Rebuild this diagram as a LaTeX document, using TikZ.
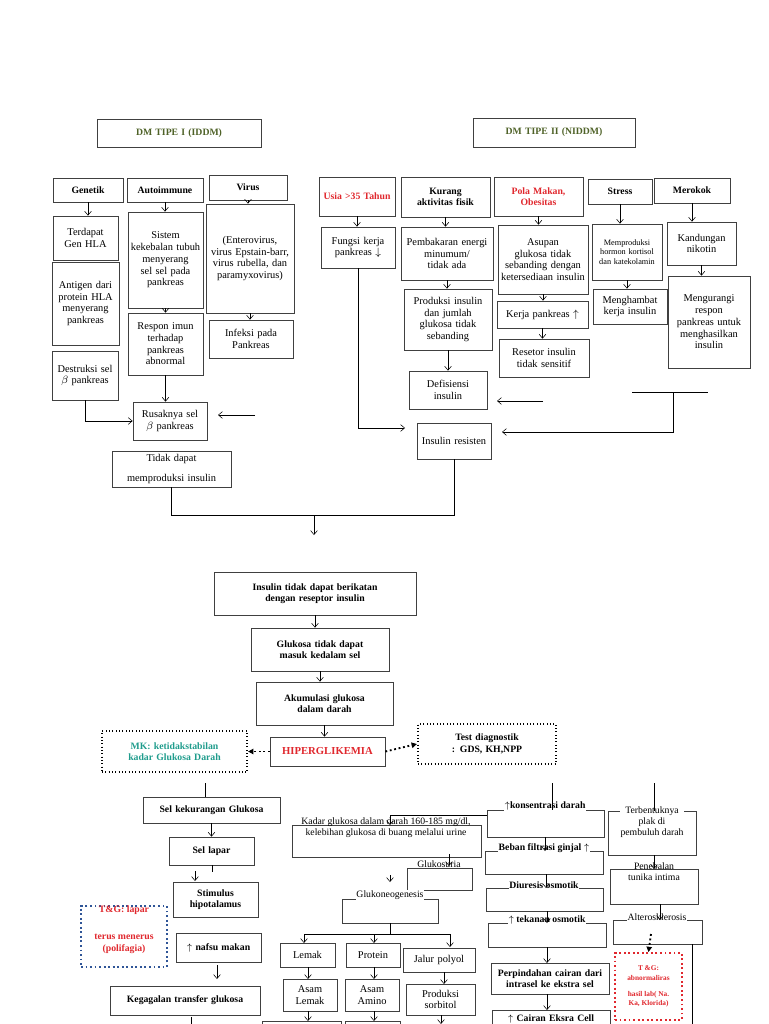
\documentclass[tikz,border=0pt]{standalone}
\usepackage{fontspec}
\setmainfont{Liberation Serif}
\usetikzlibrary{arrows.meta}
\hyphenpenalty=10000 \exhyphenpenalty=10000
\definecolor{olive}{HTML}{4F6228}
\definecolor{myred}{HTML}{E0282E}
\definecolor{teal2}{HTML}{1F9C8C}
\definecolor{dblue}{HTML}{2F5597}
\tikzset{
 box/.style={draw=black!75,line width=0.5pt,inner sep=1pt,align=center,font=\fontsize{7.8}{8.8}\selectfont},
 bb/.style={font=\fontsize{7.3}{8.6}\selectfont\bfseries},
 arr/.style={-{Straight Barb[length=3pt,width=5pt]},line width=0.4pt},
 ln/.style={line width=0.6pt},
 lbl/.style={inner sep=0pt,align=center,font=\fontsize{7.3}{8.4}\selectfont},
}
\newcommand\bx[7][]{%
\pgfmathsetmacro\bw{(#5-(#3))*0.75}\pgfmathsetmacro\bh{(#6-(#4))*0.75}\pgfmathsetmacro\tw{max((#5-(#3))*0.75-4,5)}%
\node[box,minimum width=\bw pt,minimum height=\bh pt,text width=\tw pt,#1] (#2) at ({(#3+#5)/2},{(#4+#6)/2}) {#7};}
\begin{document}
\begin{tikzpicture}[x=0.75pt,y=-0.75pt]
\useasboundingbox (0,0) rectangle (768,1024);
\clip (0,0) rectangle (768,1024);
% ---- Type I
\bx[bb,text=olive]{t1}{97}{119}{261}{147}{DM TIPE I (IDDM)}
\bx[bb,text=olive]{t2}{473}{118}{635}{147}{DM TIPE II (NIDDM)}
\bx[bb]{gen}{53}{178}{123}{202}{Genetik}
\bx[bb]{auto}{127}{178}{203}{202}{Autoimmune}
\bx[bb]{vir}{209}{175}{287}{200}{Virus}
\bx{hla}{53}{216}{118}{260}{Terdapat Gen HLA}
\bx{ant}{52}{262}{119}{345}{Antigen dari protein HLA menyerang pankreas}
\bx{des}{52}{351}{118}{400}{Destruksi sel $\beta$ pankreas}
\bx{sis}{128}{212}{203}{308}{Sistem kekebalan tubuh menyerang sel sel pada pankreas}
\bx{res}{128}{313}{203}{375}{Respon imun terhadap pankreas abnormal}
\bx{ent}{206}{204}{294}{313}{(Enterovirus, virus Epstain-barr, virus rubella, dan paramyxovirus)}
\bx{inf}{209}{320}{293}{358}{Infeksi pada Pankreas}
\bx{rus}{133}{402}{207}{440}{Rusaknya sel $\beta$ pankreas}
\bx{tdk}{112}{451}{231}{487}{Tidak dapat\\[6pt] memproduksi insulin}
\draw[arr] (gen.south) -- (gen.south|-hla.north);
\draw[arr] (auto.south) -- (auto.south|-sis.north);
\draw[arr] (vir.south) -- (vir.south|-ent.north);
\draw[arr] (sis.south) -- (sis.south|-res.north);
\draw[arr] (ent.south) -- (ent.south|-inf.north);
\draw[arr] (res.south) -- (res.south|-rus.north);
\draw[ln,arr] (des.south) |- (rus.west);
\coordinate (fa1) at (255,415);
\draw[arr] (fa1) -- (218,415);
% ---- Type II
\bx[bb,text=myred]{usia}{319}{177}{395}{216}{Usia >35 Tahun}
\bx[bb]{kur}{401}{177}{490}{217}{Kurang aktivitas fisik}
\bx[bb,text=myred]{pola}{494}{177}{583}{216}{Pola Makan, Obesitas}
\bx[bb]{str}{588}{179}{652}{204}{Stress}
\bx[bb]{mer}{654}{178}{730}{203}{Merokok}
\bx{fun}{321}{227}{395}{268}{Fungsi kerja pankreas $\downarrow$}
\bx{pem}{401}{227}{493}{280}{Pembakaran energi minumum/ tidak ada}
\bx{pro}{404}{289}{492}{350}{Produksi insulin dan jumlah glukosa tidak sebanding}
\bx{def}{409}{371}{487}{409}{Defisiensi insulin}
\bx{ires}{417}{423}{491}{459}{Insulin resisten}
\bx{asu}{498}{225}{588}{294}{Asupan glukosa tidak sebanding dengan ketersediaan insulin}
\bx{kp}{497}{301}{588}{328}{Kerja pankreas $\uparrow$}
\bx{rst}{499}{339}{589}{377}{Resetor insulin tidak sensitif}
\bx[font=\fontsize{6.2}{7.3}\selectfont]{mem}{592}{224}{662}{280}{Memproduksi hormon kortisol dan katekolamin}
\bx{meng}{593}{289}{667}{324}{Menghambat kerja insulin}
\bx{kan}{667}{222}{736}{265}{Kandungan nikotin}
\bx{mgr}{668}{276}{750}{368}{Mengurangi respon pankreas untuk menghasilkan insulin}
\draw[arr] (usia.south) -- (usia.south|-fun.north);
\draw[arr] (kur.south) -- (kur.south|-pem.north);
\draw[arr] (pem.south) -- (pem.south|-pro.north);
\draw[arr] (pro.south) -- (pro.south|-def.north);
\draw[arr] (pola.south) -- (pola.south|-asu.north);
\draw[arr] (asu.south) -- (asu.south|-kp.north);
\draw[arr] (kp.south) -- (kp.south|-rst.north);
\draw[arr] (str.south) -- (str.south|-mem.north);
\draw[arr] (mem.south) -- (mem.south|-meng.north);
\draw[arr] (mer.south) -- (mer.south|-kan.north);
\draw[arr] (kan.south) -- (kan.south|-mgr.north);
\coordinate (uc) at (358,268);
\draw[ln,arr] (uc) |- (405,428);
\coordinate (fa2) at (543,401);
\draw[arr] (fa2) -- (497,401);
\coordinate (br1) at (632,392); \coordinate (br2) at (708,392); \coordinate (br3) at (673,392);
\draw[ln] (br1) -- (br2);
\draw[ln,arr] (br3) |- (502,432);
% ---- merge
\coordinate (m1) at (172,515); \coordinate (m2) at (454,515); \coordinate (m3) at (314,515);
\draw[ln] (tdk.south) -- (tdk.south|-m1) -- (m2) -- (ires.south-|m2);
\draw[arr] (m3) -- (314,535);
% ---- middle
\bx[bb]{ins}{214}{572}{416}{615}{Insulin tidak dapat berikatan dengan reseptor insulin}
\bx[bb]{glu}{251}{628}{389}{671}{Glukosa tidak dapat masuk kedalam sel}
\bx[bb]{aku}{256}{682}{393}{725}{Akumulasi glukosa dalam darah}
\bx[bb,text=myred,font=\fontsize{8}{9}\selectfont\bfseries]{hip}{270}{737}{385}{766}{HIPERGLIKEMIA}
\bx[bb,text=teal2,draw=black,dotted,line width=1.6pt]{mk}{102}{731}{247}{772}{MK: ketidakstabilan kadar Glukosa Darah}
\bx[bb,draw=black,dotted,line width=1.6pt]{td}{418}{724}{556}{764}{Test diagnostik : GDS, KH,NPP}
\draw[arr] (ins.south) -- (ins.south|-glu.north);
\draw[arr] (glu.south) -- (glu.south|-aku.north);
\draw[arr] (aku.south) -- (aku.south|-hip.north);
\draw[-{Triangle[length=4pt,width=4pt]},dotted,line width=1.4pt] (hip.west) -- (mk.east);
\draw[-{Triangle[length=4pt,width=4pt]},dotted,line width=1.4pt] (hip.east) -- (td.west);
% ---- left bottom
\bx[bb]{skg}{143}{797}{280}{823}{Sel kekurangan Glukosa}
\bx[bb]{sl}{169}{837}{254}{865}{Sel lapar}
\bx[bb]{sh}{173}{882}{258}{917}{Stimulus hipotalamus}
\bx[bb]{nm}{176}{933}{261}{962}{$\uparrow$ nafsu makan}
\bx[bb]{kg}{110}{986}{260}{1015}{Kegagalan transfer glukosa}
\node[draw=dblue,dotted,line width=1.4pt,minimum width={86*0.75pt},minimum height={61*0.75pt}] (tg1) at (124,936.5) {};
\node[lbl,bb,text=myred] (tg1a) at (124,910) {T\&G: lapar};
\node[lbl,bb,text=myred] (tg1b) at (124,944) {terus menerus\\(polifagia)};
\coordinate (s0) at (205,783);
\draw[ln] (s0) -- (s0|-skg.north);
\draw[arr] (skg.south) -- (skg.south|-sl.north);
\draw[ln] (212,865) -- (212,872);
\coordinate (s1) at (195,871);
\draw[arr] (s1) -- (195,881);
\draw[arr] (217,965) -- (217,979);
\draw[ln] (191,1017) -- (191,1024);
% ---- center bottom
\bx{kad}{292}{825}{481}{857}{}
\node[lbl] (kadt) at (386,828) {Kadar glukosa dalam darah 160-185 mg/dl,\\kelebihan glukosa di buang melalui urine};
\bx{gls}{407}{868}{472}{890}{}
\node[lbl,fill=white,inner sep=0.5pt] (glst) at (439,864) {Glukosuria};
\bx{gng}{342}{899}{438}{923}{}
\node[lbl,fill=white,inner sep=0.5pt] (gngt) at (390,895) {Glukoneogenesis};
\draw[arr] (390,875) -- (390,882);
\draw[arr] (449,854) -- (449,866);
\bx{lem}{280}{943}{335}{967}{Lemak\\[6pt]}
\bx{prt}{346}{943}{400}{967}{Protein\\[6pt]}
\bx{jal}{403}{948}{475}{972}{Jalur polyol\\[6pt]}
\bx{asl}{283}{979}{337}{1011}{Asam Lemak}
\bx{asa}{345}{979}{399}{1011}{Asam Amino}
\bx{sor}{406}{984}{475}{1015}{Produksi sorbitol}
\coordinate (g1) at (390,934);
\draw[ln] (gng.south-|g1) -- (g1);
\draw[ln] (304,934) -- (450,934);
\draw[arr] (304,934) -- (304,943);
\draw[arr] (374,934) -- (374,943);
\draw[arr] (450,934) -- (450,947);
\draw[arr] (lem.south-|308,0) -- (308,979);
\draw[arr] (prt.south-|374,0) -- (374,979);
\draw[arr] (jal.south-|444,0) -- (444,984);
\draw[arr] (308,1011) -- (308,1021);
\draw[arr] (374,1011) -- (374,1021);
\draw[arr] (441,1015) -- (441,1024);
\draw[draw=black!75,line width=0.5pt] (262,1030) -- (262,1021) -- (341,1021) -- (341,1030);
\draw[draw=black!75,line width=0.5pt] (345,1030) -- (345,1021) -- (400,1021) -- (400,1030);
% ---- right bottom
\bx{kon}{487}{810}{604}{837}{}
\node[lbl,bb,fill=white,inner sep=0.5pt] (kont) at (545,806) {$\uparrow$konsentrasi darah};
\bx{beb}{485}{851}{603}{874}{}
\node[lbl,bb,fill=white,inner sep=0.5pt] (bebt) at (544,848) {Beban filtrasi ginjal $\uparrow$};
\bx{diu}{486}{888}{603}{911}{}
\node[lbl,bb,fill=white,inner sep=0.5pt] (diut) at (544,885) {Diuresis osmotik};
\bx{tek}{488}{923}{606}{947}{}
\node[lbl,bb,fill=white,inner sep=0.5pt] (tekt) at (547,920) {$\uparrow$ tekanan osmotik};
\bx[bb]{per}{491}{963}{609}{994}{Perpindahan cairan dari intrasel ke ekstra sel}
\bx[bb,anchor=north,text height=7pt]{cai}{492}{1010}{610}{1010}{$\uparrow$ Cairan Eksra Cell}
\draw[ln] (552,783) -- (kon.north-|552,0);
\draw[ln,arr] (kon.west|-0,815) -| (390,825);
\draw[arr] (545,837) -- (545,851);
\draw[arr] (546,874) -- (546,888);
\draw[arr] (547,911) -- (547,923);
\draw[arr] (547,947) -- (547,963);
\draw[arr] (547,994) -- (547,1010);
\bx{plk}{608}{811}{696}{855}{}
\node[lbl,fill=white,inner sep=0.5pt] (plkt) at (652,822) {Terbentuknya\\plak di\\pembuluh darah};
\bx{peb}{610}{869}{698}{904}{}
\node[lbl] (pebt) at (654,872) {Penebalan\\tunika intima};
\bx{alt}{613}{920}{702}{944}{}
\node[lbl,fill=white,inner sep=0.5pt] (altt) at (657,917) {Alterosklerosis};
\draw[ln] (654,783) -- (plk.north-|654,0);
\draw[arr] (654,855) -- (654,869);
\draw[arr] (660,904) -- (660,920);
\draw[ln] (692,944) -- (692,1024);
\node[draw=myred,dotted,line width=1.4pt,minimum width={67*0.75pt},minimum height={67*0.75pt},align=center,text=myred,font=\fontsize{5.5}{7}\selectfont\bfseries] (tg2) at (648.5,986.5) {T \&G:\\abnormaliras\\[5pt]hasil lab( Na.\\Ka, Klorida)};
\draw[-{Triangle[length=4pt,width=4pt]},dotted,line width=1.4pt] (651,934) -- (tg2.north);
\end{tikzpicture}
\end{document}
